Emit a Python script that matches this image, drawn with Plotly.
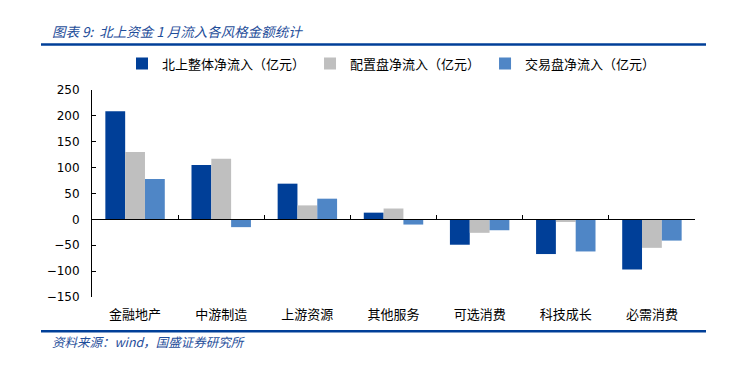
import plotly.graph_objects as go

categories = ["金融地产", "中游制造", "上游资源", "其他服务", "可选消费", "科技成长", "必需消费"]
total_flow = [209, 105, 69, 13, -49, -67, -97]
alloc_flow = [130, 117, 27, 21, -26, -5, -55]
trade_flow = [78, -15, 40, -10, -21, -62, -41]
series_names = ["北上整体净流入（亿元）", "配置盘净流入（亿元）", "交易盘净流入（亿元）"]
y_ticks = [250, 200, 150, 100, 50, 0, -50, -100, -150]

colors = ["#003F98", "#BFBFBF", "#4F86C6"]
W, H = 731, 385
L, R, T, B = 92, 36, 89.5, 88.3
ymin, ymax = -150, 250

fig = go.Figure()
for name, vals, c in zip(series_names, [total_flow, alloc_flow, trade_flow], colors):
    fig.add_trace(go.Bar(x=categories, y=vals, name=name, marker=dict(color=c, line=dict(width=0))))

# invisible trace to carry categories on the zero-line axis
fig.add_trace(go.Scatter(x=categories, y=[0] * len(categories), xaxis="x2", mode="none",
                         showlegend=False, hoverinfo="skip"))

cjk = "Noto Sans CJK SC"

def px_to_paper_x(px):
    return (px - L) / (W - L - R)

def px_to_paper_y(py):
    return 1 - (py - T) / (H - T - B)

fig.update_layout(
    width=W, height=H,
    margin=dict(l=L, r=R, t=T, b=B, autoexpand=False),
    paper_bgcolor="white", plot_bgcolor="white",
    barmode="group", bargap=0.31, bargroupgap=0,
    font=dict(family=cjk, size=12, color="#000"),
    showlegend=True,
    legend=dict(orientation="h", x=px_to_paper_x(122), y=px_to_paper_y(63),
                xanchor="left", yanchor="middle",
                font=dict(family=cjk, size=13, color="#000"), itemwidth=30,
                bgcolor="rgba(0,0,0,0)", tracegroupgap=0),
    xaxis=dict(type="category", range=[-0.5, len(categories) - 0.5], showline=False, ticks="",
               showgrid=False, zeroline=False, automargin=False, ticklabelstandoff=8,
               tickfont=dict(family=cjk, size=13, color="#000")),
    xaxis2=dict(type="category", overlaying="x", anchor="free", side="bottom",
                position=(0 - ymin) / (ymax - ymin), range=[-0.5, len(categories) - 0.5],
                showline=True, linecolor="#000", linewidth=1.2,
                ticks="inside", tickson="boundaries", ticklen=4, tickcolor="#000",
                showticklabels=False, showgrid=False, zeroline=False, automargin=False),
    yaxis=dict(range=[ymin, ymax], tickvals=y_ticks, ticks="inside", ticklen=4,
               tickcolor="#000", showline=True, linecolor="#000", linewidth=1,
               showgrid=False, zeroline=False, automargin=False, ticklabelstandoff=9,
               tickfont=dict(family="DejaVu Sans", size=12, color="#000")),
)

blue = "#1F4E9A"
fig.add_annotation(text="图表 9:  北上资金 1 月流入各风格金额统计", xref="paper", yref="paper",
                   x=px_to_paper_x(50), y=px_to_paper_y(30),
                   xanchor="left", yanchor="middle", showarrow=False,
                   font=dict(family=cjk, size=13.5, color=blue, style="italic"))
fig.add_annotation(text="资料来源：wind，国盛证券研究所", xref="paper", yref="paper",
                   x=px_to_paper_x(50), y=px_to_paper_y(341),
                   xanchor="left", yanchor="middle", showarrow=False,
                   font=dict(family=cjk, size=12.5, color=blue, style="italic"))

fig.add_shape(type="line", xref="paper", yref="paper", x0=px_to_paper_x(41), x1=px_to_paper_x(706),
              y0=px_to_paper_y(44), y1=px_to_paper_y(44), line=dict(color="#003F98", width=2.5))
fig.add_shape(type="line", xref="paper", yref="paper", x0=px_to_paper_x(41), x1=px_to_paper_x(706),
              y0=px_to_paper_y(331), y1=px_to_paper_y(331), line=dict(color="#003F98", width=2.5))

fig.write_html("out.html", config={"displayModeBar": False},
               post_script="document.body.style.margin='0';document.body.style.overflow='hidden';")
